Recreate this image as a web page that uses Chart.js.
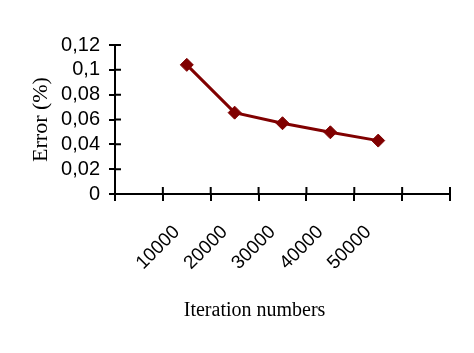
<!DOCTYPE html>
<html>
<head>
<meta charset="utf-8">
<script src="https://cdn.jsdelivr.net/npm/chart.js@4"></script>
<style>
  html, body { margin: 0; padding: 0; background: #fff; }
  #wrap { width: 474px; height: 353px; }
</style>
</head>
<body>
<div id="wrap"><canvas id="errChart" width="474" height="353"></canvas></div>
<script>
const iterations = ['', '10000', '20000', '30000', '40000', '50000', ''];
const errorValues = [null, 0.104, 0.0655, 0.057, 0.0497, 0.043, null];
const yTicks = [0, 0.02, 0.04, 0.06, 0.08, 0.1, 0.12];
const xTitle = 'Iteration numbers';

const darkRed = '#800000';

// draw the inner half of each tick mark so they cross the axis line,
// and the x title centred under the labelled part of the axis
const axisExtras = {
    id: 'axisExtras',
    afterDraw(chart) {
        const c = chart.ctx;
        const x = chart.scales.x, y = chart.scales.y;
        c.save();
        c.strokeStyle = '#000';
        c.lineWidth = 2;
        c.beginPath();
        y.ticks.forEach(t => {
            const py = y.getPixelForValue(t.value);
            c.moveTo(y.right, py);
            c.lineTo(y.right + 6, py);
        });
        for (let i = 0; i <= iterations.length; i++) {
            const px = x.getPixelForValue(i - 0.5);
            c.moveTo(px, x.top);
            c.lineTo(px, x.top - 7);
        }
        c.stroke();

        c.fillStyle = '#000';
        c.font = '20px "Liberation Serif"';
        c.textAlign = 'center';
        c.textBaseline = 'middle';
        const cx = (x.left + x.getPixelForValue(iterations.length - 1.5)) / 2;
        c.fillText(xTitle, cx - 4, x.bottom - 42);
        c.restore();
    }
};

new Chart(document.getElementById('errChart'), {
    type: 'line',
    data: {
        labels: iterations,
        datasets: [{
            data: errorValues,
            borderColor: darkRed,
            backgroundColor: darkRed,
            borderWidth: 3,
            pointStyle: 'rectRot',
            pointRadius: 6.5,
            pointBorderWidth: 1,
            fill: false,
            clip: false
        }]
    },
    options: {
        responsive: false,
        animation: false,
        layout: { padding: { top: 45, right: 24, left: 0, bottom: 0 } },
        plugins: { legend: { display: false }, tooltip: { enabled: false } },
        scales: {
            x: {
                offset: true,
                afterFit(s) { s.height = 159; },
                grid: { offset: true, drawOnChartArea: false, color: '#000', lineWidth: 2, tickLength: 7 },
                border: { color: '#000', width: 2 },
                ticks: {
                    autoSkip: false,
                    minRotation: 45,
                    maxRotation: 45,
                    padding: 20,
                    labelOffset: -10,
                    color: '#000',
                    font: { family: 'Liberation Sans', size: 19 }
                }
            },
            y: {
                min: 0,
                max: 0.12,
                afterFit(s) { s.width = 115; },
                afterBuildTicks(s) { s.ticks = yTicks.map(v => ({ value: v })); },
                grid: { drawOnChartArea: false, color: '#000', lineWidth: 2, tickLength: 6 },
                border: { color: '#000', width: 2 },
                ticks: {
                    autoSkip: false,
                    padding: 9,
                    color: '#000',
                    font: { family: 'Liberation Sans', size: 20 },
                    callback: v => String(Number(v.toFixed(2))).replace('.', ',')
                },
                title: {
                    display: true,
                    text: 'Error (%)',
                    color: '#000',
                    font: { family: 'Liberation Serif', size: 22 },
                    padding: { top: 28, bottom: 0 }
                }
            }
        }
    },
    plugins: [axisExtras]
});
</script>
</body>
</html>
